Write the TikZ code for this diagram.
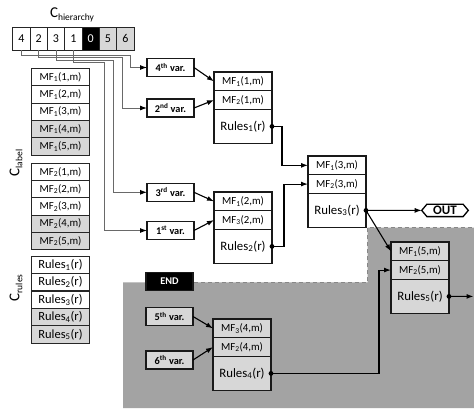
\documentclass[tikz,border=0pt]{standalone}
\usepackage{fontspec}
\setmainfont{Carlito}
\usetikzlibrary{arrows.meta,shapes.symbols}
\definecolor{zonegray}{RGB}{163,163,163}
\definecolor{cellgray}{RGB}{215,215,215}
\definecolor{linkgray}{RGB}{105,105,105}
\definecolor{dashgray}{RGB}{135,135,135}
\newcommand\fzblock[7]{%
  \node[mfbox,fill=#7] (#1a) at ({#2},{#3+9.35}) {#4};
  \node[mfbox,fill=#7,anchor=north] (#1b) at (#1a.south) {#5};
  \node[rulebox,fill=#7,anchor=north] (#1c) at (#1b.south) {#6};
}
\begin{document}
\begin{tikzpicture}[x=1pt,y=-1pt,
  every node/.style={inner sep=0pt,outer sep=0pt},
  hcell/.style={draw=black!85,line width=0.9pt,minimum width=17.33pt,minimum height=22.7pt,font=\fontsize{12}{13}\selectfont},
  listrow/.style={draw=black!85,line width=0.9pt,minimum width=57.6pt,minimum height=17.35pt,font=\fontsize{10.8}{12}\selectfont},
  listrule/.style={listrow,font=\fontsize{12.5}{14}\selectfont},
  mfbox/.style={draw=black!90,line width=1.1pt,minimum width=58pt,minimum height=18.7pt,font=\fontsize{10.8}{12}\selectfont},
  rulebox/.style={mfbox,minimum height=34pt,font=\fontsize{12.8}{14}\selectfont},
  varbox/.style={draw=black!90,line width=1.1pt,minimum width=47pt,minimum height=18pt,font=\bfseries\fontsize{10.3}{12}\selectfont,fill=white},
  link/.style={draw=linkgray,line width=0.9pt,-{Latex[length=7pt,width=5pt,color=black]}},
  conn/.style={draw=black,line width=1.1pt,-{Latex[length=7pt,width=5pt]}},
  dot/.style={fill=black},
  sidelabel/.style={rotate=90,transform shape}
]
\useasboundingbox (0,0) rectangle (474,408);
% shaded zone
\fill[zonegray] (123,408) -- (123,282.3) -- (367.5,282.3) -- (367.5,227.5) -- (474,227.5) -- (474,408) -- cycle;
\draw[dashgray,line width=1.5pt,dash pattern=on 4pt off 3pt] (193.5,282.3) -- (367.5,282.3) -- (367.5,227.5) -- (474,227.5);

% labels
\node (chier) at (72,15) {\fontsize{15}{17}\selectfont C\raisebox{-3pt}{\fontsize{9.5}{10}\selectfont hierarchy}};
\begin{scope}[shift={(16,163)}]
\node[sidelabel] (clab) at (0,0) {\fontsize{15}{17}\selectfont C\raisebox{-3pt}{\fontsize{9.5}{10}\selectfont label}};
\end{scope}
\begin{scope}[shift={(16,288)}]
\node[sidelabel] (crul) at (0,0) {\fontsize{15}{17}\selectfont C\raisebox{-3pt}{\fontsize{9.5}{10}\selectfont rules}};
\end{scope}

% hierarchy cells
\node[hcell] (h4) at (21.37,38.65) {4};
\node[hcell] (h2) at (38.70,38.65) {2};
\node[hcell] (h3) at (56.03,38.65) {3};
\node[hcell] (h1) at (73.36,38.65) {1};
\node[hcell,fill=black,text=white] (h0) at (90.70,38.65) {0};
\node[hcell,fill=cellgray] (h5) at (108.03,38.65) {5};
\node[hcell,fill=cellgray] (h6) at (125.36,38.65) {6};

% left lists
\foreach \i/\f in {1/white,2/white,3/white,4/cellgray,5/cellgray}{
  \node[listrow,fill=\f] (la\i) at (60.5,{68.3+17.35*(\i-0.5)}) {MF\textsubscript{1}(\i,m)};
  \node[listrow,fill=\f] (lb\i) at (60.5,{163.3+17.25*(\i-0.5)}) {MF\textsubscript{2}(\i,m)};
  \node[listrule,fill=\f] (lc\i) at (60.5,{256+17.45*(\i-0.5)}) {Rules\textsubscript{\i}(r)};
}

% variable boxes
\node[varbox] (v4) at (170.5,67.5) {4\textsuperscript{th} var.};
\node[varbox] (v2) at (170.5,108) {2\textsuperscript{nd} var.};
\node[varbox] (v3) at (170.5,192.3) {3\textsuperscript{rd} var.};
\node[varbox] (v1) at (170.5,230.5) {1\textsuperscript{st} var.};
\node[varbox,fill=cellgray] (v5) at (169.5,316.5) {5\textsuperscript{th} var.};
\node[varbox,fill=cellgray] (v6) at (169.5,360) {6\textsuperscript{th} var.};
\node[varbox,fill=black,text=white] (endn) at (169.5,281.5) {END};

% blocks
\fzblock{b1}{243}{72}{MF\textsubscript{1}(1,m)}{MF\textsubscript{2}(1,m)}{Rules\textsubscript{1}(r)}{white}
\fzblock{b2}{243}{192}{MF\textsubscript{1}(2,m)}{MF\textsubscript{3}(2,m)}{Rules\textsubscript{2}(r)}{white}
\fzblock{b3}{337}{156}{MF\textsubscript{1}(3,m)}{MF\textsubscript{2}(3,m)}{Rules\textsubscript{3}(r)}{white}
\fzblock{b4}{242}{319}{MF\textsubscript{3}(4,m)}{MF\textsubscript{2}(4,m)}{Rules\textsubscript{4}(r)}{cellgray}
\fzblock{b5}{420}{242}{MF\textsubscript{1}(5,m)}{MF\textsubscript{2}(5,m)}{Rules\textsubscript{5}(r)}{cellgray}

\node[draw=black,line width=1.3pt,fill=white,signal,signal to=east and west,signal pointer angle=100,minimum width=46.6pt,minimum height=12.4pt,font=\bfseries\fontsize{13}{14}\selectfont] (out) at (445,210.4) {OUT};
\coordinate (edge) at (473.5,296.4);

% hierarchy links
\draw[link] (h4.south) |- (130,55) |- (v4.west);
\draw[link] (h2.south) |- (122,57.5) |- (v2.west);
\draw[link] (h3.south) |- (113,60) |- (v3.west);
\draw[link] (h1.south) |- (104,62.5) |- (v1.west);

% var to blocks
\draw[conn] (v4.east) -- (b1a.west);
\draw[conn] (v2.east) -- (b1b.west);
\draw[conn] (v3.east) -- (b2a.west);
\draw[conn] (v1.east) -- (b2b.west);
\draw[conn] (v5.east) -- (b4a.west);
\draw[conn] (v6.east) -- (b4b.west);

% rules outputs
\draw[conn] (b1c.east) -| (282,165) |- (b3a.west);
\draw[conn] (b2c.east) -| (284,200) |- (b3b.west);
\draw[conn] (b3c.east) -- (out.west);
\draw[conn] (b3c.east) -- (b5a.west);
\draw[conn] (b4c.east) -| (379,300) |- (b5b.west);
\draw[conn] (b5c.east) -- (edge);

\foreach \n in {b1c,b2c,b3c,b4c,b5c}{\fill[dot] (\n.east) circle (2.4);}
\end{tikzpicture}
\end{document}
